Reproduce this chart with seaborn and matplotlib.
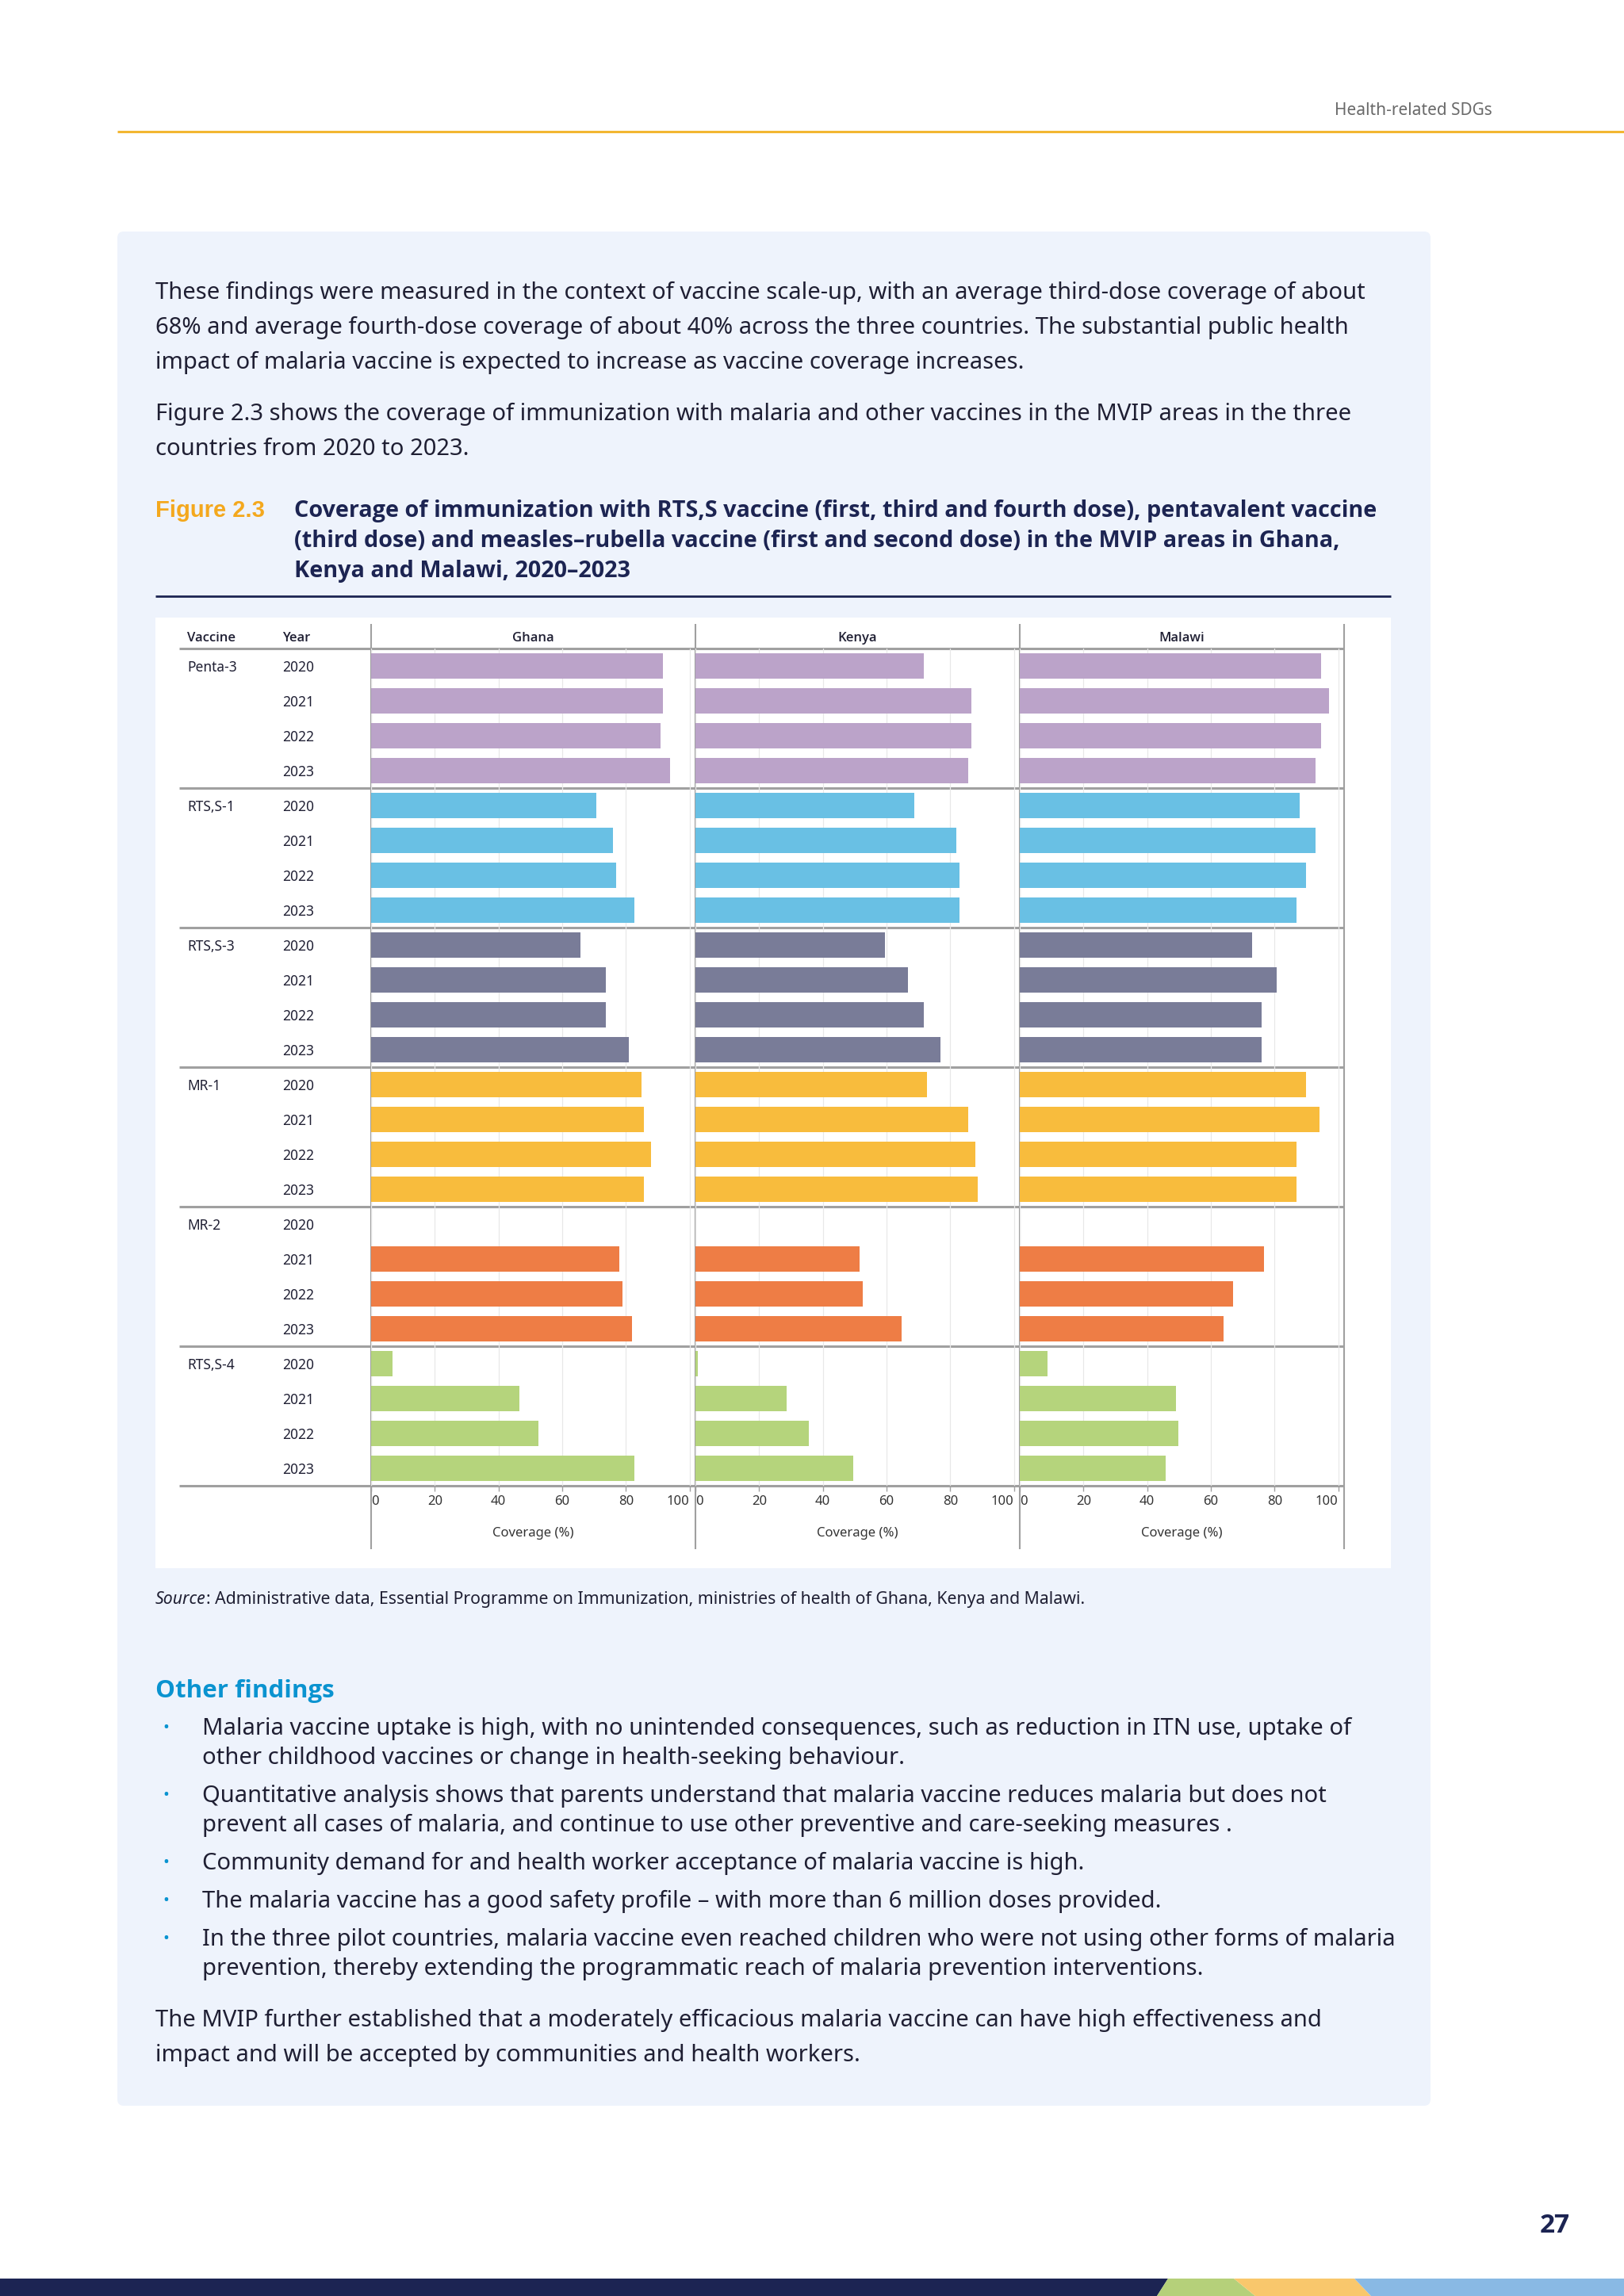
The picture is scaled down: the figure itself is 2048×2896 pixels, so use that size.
import matplotlib
matplotlib.use("Agg")
import matplotlib.pyplot as plt
from matplotlib import font_manager as fm
from matplotlib.patches import Polygon, FancyBboxPatch, Rectangle
import seaborn as sns
import pandas as pd
import numpy as np

vaccines = ["Penta-3", "RTS,S-1", "RTS,S-3", "MR-1", "MR-2", "RTS,S-4"]
years = ["2020", "2021", "2022", "2023"]
countries = ["Ghana", "Kenya", "Malawi"]

# coverage (%), 4 years per vaccine in the order above (MR-2 2020 not reported)
ghana = [91.7, 91.7, 90.9, 93.8,
         70.6, 75.8, 76.8, 82.7,
         65.7, 73.6, 73.6, 80.8,
         84.9, 85.7, 87.9, 85.7,
         np.nan, 78.0, 79.0, 81.9,
         6.7, 46.6, 52.6, 82.7]
kenya = [71.6, 86.7, 86.7, 85.7,
         68.6, 81.8, 83.0, 83.0,
         59.6, 66.8, 71.6, 76.8,
         72.8, 85.5, 87.9, 88.5,
         np.nan, 51.6, 52.6, 64.8,
         0.8, 28.7, 35.7, 49.6]
malawi = [94.6, 97.0, 94.6, 92.8,
          87.9, 92.8, 89.9, 86.9,
          73.0, 80.7, 75.9, 75.9,
          89.9, 94.0, 86.9, 86.9,
          np.nan, 76.7, 67.0, 64.0,
          8.7, 49.1, 49.7, 45.9]

bar_colors = ["#BBA3C9", "#69C0E4", "#797C98", "#F8BC3D", "#EE7D45", "#B5D47C"]
vaccine_colors = dict(zip(vaccines, bar_colors))

x_ticks = [0, 20, 40, 60, 80, 100]

paragraph_1 = [
    "These findings were measured in the context of vaccine scale-up, with an average third-dose coverage of about",
    "68% and average fourth-dose coverage of about 40% across the three countries. The substantial public health",
    "impact of malaria vaccine is expected to increase as vaccine coverage increases.",
]
paragraph_2 = [
    "Figure 2.3 shows the coverage of immunization with malaria and other vaccines in the MVIP areas in the three",
    "countries from 2020 to 2023.",
]
title_lines = [
    "Coverage of immunization with RTS,S vaccine (first, third and fourth dose), pentavalent vaccine",
    "(third dose) and measles\u2013rubella vaccine (first and second dose) in the MVIP areas in Ghana,",
    "Kenya and Malawi, 2020\u20132023",
]
bullets = [
    ["Malaria vaccine uptake is high, with no unintended consequences, such as reduction in ITN use, uptake of",
     "other childhood vaccines or change in health-seeking behaviour."],
    ["Quantitative analysis shows that parents understand that malaria vaccine reduces malaria but does not",
     "prevent all cases of malaria, and continue to use other preventive and care-seeking measures ."],
    ["Community demand for and health worker acceptance of malaria vaccine is high."],
    ["The malaria vaccine has a good safety profile \u2013 with more than 6 million doses provided."],
    ["In the three pilot countries, malaria vaccine even reached children who were not using other forms of malaria",
     "prevention, thereby extending the programmatic reach of malaria prevention interventions."],
]
closing = [
    "The MVIP further established that a moderately efficacious malaria vaccine can have high effectiveness and",
    "impact and will be accepted by communities and health workers.",
]

rows = []
for country, values in zip(countries, [ghana, kenya, malawi]):
    for i, v in enumerate(values):
        vac, yr = vaccines[i // 4], years[i % 4]
        rows.append({"country": country, "vaccine": vac, "year": yr,
                     "row": f"{vac} {yr}", "coverage": v})
df = pd.DataFrame(rows)
row_order = [f"{v} {y}" for v in vaccines for y in years]


def family_with_weight(prefs, min_weight):
    # first installed family that really has a heavy face
    for name in prefs:
        for f in fm.fontManager.ttflist:
            w = f.weight if isinstance(f.weight, int) else fm.weight_dict.get(f.weight, 400)
            if f.name == name and w >= min_weight:
                return name
    return "DejaVu Sans"


sns.set_style("white")
plt.rcParams["font.family"] = ["Noto Sans", "DejaVu Sans"]
BOLD = [family_with_weight(["Noto Sans", "Open Sans", "Fira Sans", "Roboto", "Lato", "Inter"], 600),
        "DejaVu Sans"]
SEMI = [family_with_weight(["Noto Sans", "Open Sans", "Roboto", "Inter", "Lato"], 500), "DejaVu Sans"]

W, H = 2048, 2896
fig = plt.figure(figsize=(W / 100, H / 100), dpi=100)
fig.patch.set_facecolor("white")

# page canvas in pixel coordinates
bg = fig.add_axes([0, 0, 1, 1])
bg.set_xlim(0, W)
bg.set_ylim(H, 0)
bg.axis("off")
bg.set_zorder(-1)

TEXT = "#1f1f33"
NAVY = "#1c2452"
GRID_LINE = "#a0a0a0"
BODY = 21

bg.text(1882, 137, "Health-related SDGs", ha="right", va="center_baseline",
        fontsize=15, color="#6a6a6a")
bg.plot([148, W], [166, 166], color="#F2B632", lw=2.2, solid_capstyle="butt")

bg.add_patch(FancyBboxPatch((148, 292), 1656, 2364,
                            boxstyle="round,pad=0,rounding_size=8",
                            fc="#EEF3FC", ec="none"))

for y, line in zip([366, 410, 454], paragraph_1):
    bg.text(196, y, line, fontsize=BODY, color=TEXT, va="center_baseline")
for y, line in zip([519, 563], paragraph_2):
    bg.text(196, y, line, fontsize=BODY, color=TEXT, va="center_baseline")

bg.text(196, 641, "Figure 2.3", fontsize=21, color="#F4A81D", va="center_baseline",
        weight="bold", family=["Liberation Sans", "DejaVu Sans"])
for y, line in zip([641, 679, 717], title_lines):
    bg.text(371, y, line, fontsize=20.8, color=NAVY, weight="bold", family=BOLD,
            va="center_baseline")
bg.plot([196, 1754], [752, 752], color=NAVY, lw=2, solid_capstyle="butt")

# chart area
bg.add_patch(Rectangle((196, 779), 1558, 1199, fc="white", ec="none"))

top, row_h = 818, 44
panel_x = [468, 877, 1286, 1695]
bottom = top + row_h * len(row_order)

bg.text(236, 803, "Vaccine", fontsize=12, weight="semibold", family=SEMI, color=TEXT,
        va="center_baseline")
bg.text(356, 803, "Year", fontsize=12, weight="semibold", family=SEMI, color=TEXT,
        va="center_baseline")
for i, r in enumerate(row_order):
    vac, yr = r.rsplit(" ", 1)
    yc = top + (i + 0.5) * row_h
    if yr == years[0]:
        bg.text(236, yc, vac, fontsize=12.5, color=TEXT, va="center_baseline")
    bg.text(356, yc, yr, fontsize=12.5, color=TEXT, va="center_baseline")

bg.hlines([top + 4 * row_h * k for k in range(len(vaccines) + 1)], 226, panel_x[-1],
          color=GRID_LINE, lw=2.2)
bg.vlines(panel_x, 787, 1954, color=GRID_LINE, lw=1.5)

for k, country in enumerate(countries):
    x0, x1 = panel_x[k], panel_x[k + 1]
    ax = fig.add_axes([x0 / W, 1 - bottom / H, (x1 - x0) / W, (bottom - top) / H])
    ax.set_facecolor("none")
    sub = df[df["country"] == country]
    sns.barplot(data=sub, x="coverage", y="row", hue="vaccine", order=row_order,
                hue_order=vaccines, palette=vaccine_colors, dodge=False, width=0.74,
                saturation=1, errorbar=None, legend=False, linewidth=0, ax=ax)
    ax.set_xlim(0, 101.8)
    ax.set_ylim(len(row_order) - 0.5, -0.5)
    ax.set_yticks([])
    ax.set_ylabel("")
    ax.set_xticks(x_ticks, labels=[str(t) for t in x_ticks])
    ax.tick_params(axis="x", bottom=True, length=5, width=1, color=GRID_LINE,
                   labelsize=12, labelcolor="#333333", pad=4)
    labels = ax.get_xticklabels()
    labels[0].set_ha("left")
    labels[-1].set_ha("right")
    ax.grid(axis="x", color="#e8e8e8", lw=0.9)
    ax.set_axisbelow(True)
    for s in ax.spines.values():
        s.set_visible(False)
    ax.set_xlabel("Coverage (%)", fontsize=12, color="#333333", labelpad=17)
    ax.set_title(country, fontsize=12, weight="semibold", family=SEMI, color=TEXT, pad=6.5)

src = bg.text(196, 2015, "Source", fontsize=15.3, style="italic", color=TEXT,
              va="center_baseline")
bg.annotate(": Administrative data, Essential Programme on Immunization, ministries of health of Ghana, Kenya and Malawi.",
            xy=(1, 0), xycoords=src, va="bottom", ha="left", fontsize=15.3, color=TEXT)

bg.text(196, 2129, "Other findings", fontsize=22.5, weight="bold", family=BOLD, color="#0A93D0",
        va="center_baseline")
bullet_y = [[2177, 2214], [2262, 2299], [2347], [2395], [2443, 2480]]
for ys, lines in zip(bullet_y, bullets):
    bg.text(205, ys[0], "\u2022", fontsize=15, color="#0A93D0", va="center_baseline")
    for y, line in zip(ys, lines):
        bg.text(255, y, line, fontsize=BODY, color=TEXT, va="center_baseline")
for y, line in zip([2545, 2589], closing):
    bg.text(196, y, line, fontsize=BODY, color=TEXT, va="center_baseline")

bg.text(1961, 2803, "27", fontsize=24, weight="bold", family=BOLD, color=NAVY, ha="center",
        va="center_baseline")

# footer band
bar_top, bar_bot = 2874, H
bg.add_patch(Polygon([(0, bar_top), (1473, bar_top), (1459, bar_bot), (0, bar_bot)], fc="#1C2453", ec="none"))
bg.add_patch(Polygon([(1473, bar_top), (1556, bar_top), (1583, bar_bot), (1459, bar_bot)], fc="#B5D07A", ec="none"))
bg.add_patch(Polygon([(1556, bar_top), (1708, bar_top), (1729, bar_bot), (1583, bar_bot)], fc="#F9C76C", ec="none"))
bg.add_patch(Polygon([(1708, bar_top), (W, bar_top), (W, bar_bot), (1729, bar_bot)], fc="#89B9E4", ec="none"))

fig.savefig("out.png", dpi=100)
